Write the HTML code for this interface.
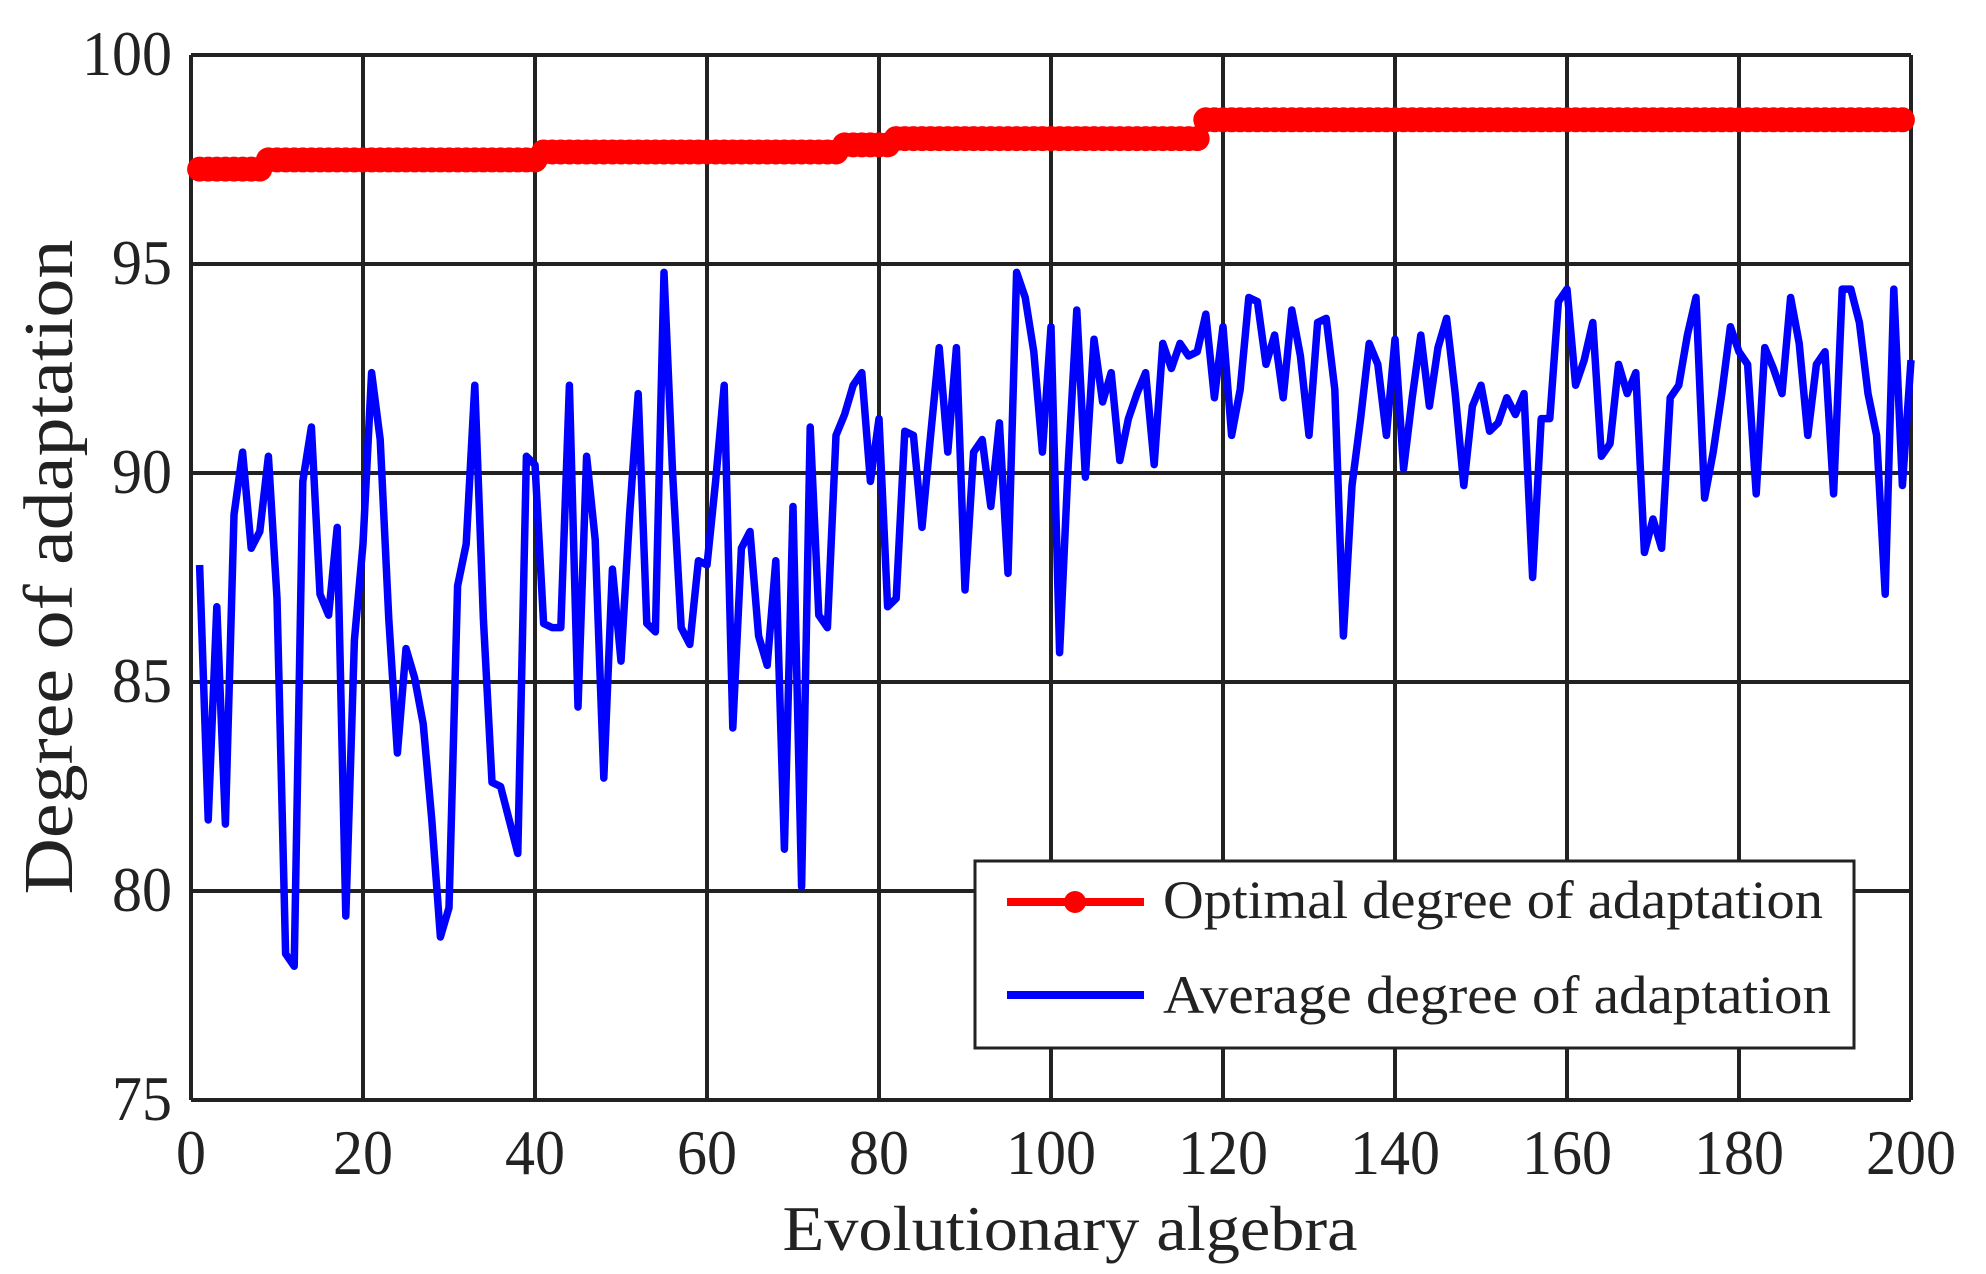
<!DOCTYPE html>
<html><head><meta charset="utf-8"><style>
html,body{margin:0;padding:0;background:#fff;}
svg{display:block;}
text{font-family:"Liberation Serif",serif;fill:#222;}
</style></head><body>
<svg id="s" width="1986" height="1274" viewBox="0 0 1986 1274" xmlns="http://www.w3.org/2000/svg">
<rect width="1986" height="1274" fill="#fff"/>
<g id="grid" stroke="#222" stroke-width="4"></g>
<g id="ticks" font-size="64"></g>
<text x="1070" y="1250" font-size="64" text-anchor="middle" textLength="575" lengthAdjust="spacingAndGlyphs">Evolutionary algebra</text>
<text transform="translate(72,567) rotate(-90)" font-size="70" text-anchor="middle" textLength="655" lengthAdjust="spacingAndGlyphs">Degree of adaptation</text>
<g id="red"></g>
<polyline id="blue" fill="none" stroke="#0000ff" stroke-width="7.5" stroke-linejoin="round"/>
<rect x="975" y="861" width="879" height="187" fill="#fff" stroke="#222" stroke-width="3"/>
<line x1="1007" y1="902" x2="1144" y2="902" stroke="#ff0000" stroke-width="8"/>
<circle cx="1075" cy="902" r="11" fill="#ff0000"/>
<line x1="1007" y1="995" x2="1144" y2="995" stroke="#0000ff" stroke-width="8"/>
<text x="1163" y="918" font-size="54" textLength="660" lengthAdjust="spacingAndGlyphs">Optimal degree  of adaptation</text>
<text x="1163" y="1013" font-size="54" textLength="668" lengthAdjust="spacingAndGlyphs">Average  degree  of adaptation</text>
</svg>
<script>
var NS="http://www.w3.org/2000/svg";
function X(v){return 191+v*8.6;}
function Y(v){return 1100-(v-75)*41.8;}
function el(t,a,p){var e=document.createElementNS(NS,t);for(var k in a)e.setAttribute(k,a[k]);p.appendChild(e);return e;}
var g=document.getElementById('grid'),tk=document.getElementById('ticks');
for(var i=0;i<=10;i++){var x=X(i*20);el('line',{x1:x,y1:Y(100),x2:x,y2:Y(75)},g);
 var t=el('text',{x:x,y:1174,'text-anchor':'middle',textLength:(i==0?30:(i<5?60:90)),lengthAdjust:'spacingAndGlyphs'},tk);t.textContent=i*20;}
for(var v=75;v<=100;v+=5){var y=Y(v);el('line',{x1:X(0),y1:y,x2:X(200),y2:y},g);
 var t=el('text',{x:172,y:y+20,'text-anchor':'end',textLength:(v==100?90:60),lengthAdjust:'spacingAndGlyphs'},tk);t.textContent=v;}
var r=document.getElementById('red'),pts=[];
function rv(i){if(i<9)return 97.27;if(i<41)return 97.49;if(i<76)return 97.68;if(i<82)return 97.85;if(i<118)return 98.0;return 98.45;}
for(var i=1;i<=199;i++){pts.push(X(i)+','+Y(rv(i)));el('circle',{cx:X(i),cy:Y(rv(i)),r:12.5,fill:'#ff0000'},r);}
el('polyline',{points:pts.join(' '),fill:'none',stroke:'#ff0000','stroke-width':12},r);
var b=[87.8,81.7,86.8,81.6,89,90.5,88.2,88.6,90.4,87,78.5,78.2,89.8,91.1,87.1,86.6,88.7,79.4,86,88.3,92.4,90.8,86.5,83.3,85.8,85.1,84,81.7,78.9,79.6,87.3,88.3,92.1,86.5,82.6,82.5,81.7,80.9,90.4,90.2,86.4,86.3,86.3,92.1,84.4,90.4,88.4,82.7,87.7,85.5,89,91.9,86.4,86.2,94.8,90,86.3,85.9,87.9,87.8,89.8,92.1,83.9,88.2,88.6,86.1,85.4,87.9,81,89.2,80.1,91.1,86.6,86.3,90.9,91.4,92.1,92.4,89.8,91.3,86.8,87,91,90.9,88.7,90.9,93,90.5,93,87.2,90.5,90.8,89.2,91.2,87.6,94.8,94.2,92.9,90.5,93.5,85.7,90.2,93.9,89.9,93.2,91.7,92.4,90.3,91.3,91.9,92.4,90.2,93.1,92.5,93.1,92.8,92.9,93.8,91.8,93.5,90.9,92,94.2,94.1,92.6,93.3,91.8,93.9,92.8,90.9,93.6,93.7,92,86.1,89.7,91.3,93.1,92.6,90.9,93.2,90.1,91.8,93.3,91.6,93,93.7,91.9,89.7,91.6,92.1,91,91.2,91.8,91.4,91.9,87.5,91.3,91.3,94.1,94.4,92.1,92.7,93.6,90.4,90.7,92.6,91.9,92.4,88.1,88.9,88.2,91.8,92.1,93.3,94.2,89.4,90.5,91.9,93.5,92.9,92.6,89.5,93,92.5,91.9,94.2,93.1,90.9,92.6,92.9,89.5,94.4,94.4,93.6,91.9,90.9,87.1,94.4,89.7,92.7];
var bp=[];for(var i=0;i<b.length;i++)bp.push(X(i+1)+','+Y(b[i]));
document.getElementById('blue').setAttribute('points',bp.join(' '));
</script>
</body></html>
